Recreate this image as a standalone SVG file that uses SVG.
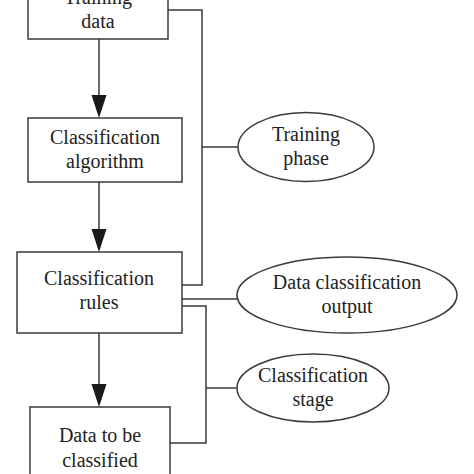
<svg xmlns="http://www.w3.org/2000/svg" width="474" height="474" viewBox="0 0 474 474">
<style>
.box{fill:#fff;stroke:#3a3a3a;stroke-width:1.5}
.ell{fill:#fff;stroke:#3a3a3a;stroke-width:1.5}
.ln{fill:none;stroke:#3a3a3a;stroke-width:1.5}
text{font-family:"Liberation Serif",serif;font-size:20px;fill:#222;text-anchor:middle}
</style>
<defs>
<marker id="arr" markerWidth="15" markerHeight="24" refX="7.5" refY="24" orient="auto" markerUnits="userSpaceOnUse" viewBox="0 0 15 24">
<path d="M0,0 L15,0 L7.5,24 Z" fill="#1a1a1a" transform="rotate(0)"/>
</marker>
</defs>
<rect width="474" height="474" fill="#fff"/>
<g id="connectors">
<line class="ln" x1="99" y1="39" x2="99" y2="95"/>
<path d="M91.5,95 L106.5,95 L99,118 Z" fill="#1a1a1a"/>
<line class="ln" x1="99" y1="182" x2="99" y2="229"/>
<path d="M91.5,229 L106.5,229 L99,252 Z" fill="#1a1a1a"/>
<line class="ln" x1="99" y1="333" x2="99" y2="384"/>
<path d="M91.5,384 L106.5,384 L99,407 Z" fill="#1a1a1a"/>
<polyline class="ln" points="168,10 202,10 202,285 182,285"/>
<line class="ln" x1="202" y1="147" x2="238" y2="147"/>
<line class="ln" x1="182" y1="299" x2="237" y2="299"/>
<polyline class="ln" points="182,306 206,306 206,443 170,443"/>
<line class="ln" x1="206" y1="388" x2="237" y2="388"/>
</g>
<g id="training-data">
<rect class="box" x="28" y="-30" width="140" height="69"/>
<text x="98" y="4">Training</text>
<text x="98" y="28">data</text>
</g>
<g id="classification-algorithm">
<rect class="box" x="28" y="118" width="154" height="64"/>
<text x="105" y="144">Classification</text>
<text x="105" y="168">algorithm</text>
</g>
<g id="classification-rules">
<rect class="box" x="17" y="252" width="165" height="81"/>
<text x="99" y="285">Classification</text>
<text x="99" y="309">rules</text>
</g>
<g id="data-to-be-classified">
<rect class="box" x="30" y="407" width="140" height="80"/>
<text x="100" y="442">Data to be</text>
<text x="100" y="467">classified</text>
</g>
<g id="training-phase">
<ellipse class="ell" cx="306" cy="147" rx="68" ry="34.5"/>
<text x="306" y="141">Training</text>
<text x="306" y="165">phase</text>
</g>
<g id="data-classification-output">
<ellipse class="ell" cx="347" cy="295" rx="110" ry="38"/>
<text x="347" y="289">Data classification</text>
<text x="347" y="313">output</text>
</g>
<g id="classification-stage">
<ellipse class="ell" cx="313" cy="388" rx="76" ry="34"/>
<text x="313" y="382">Classification</text>
<text x="313" y="406">stage</text>
</g>
</svg>
